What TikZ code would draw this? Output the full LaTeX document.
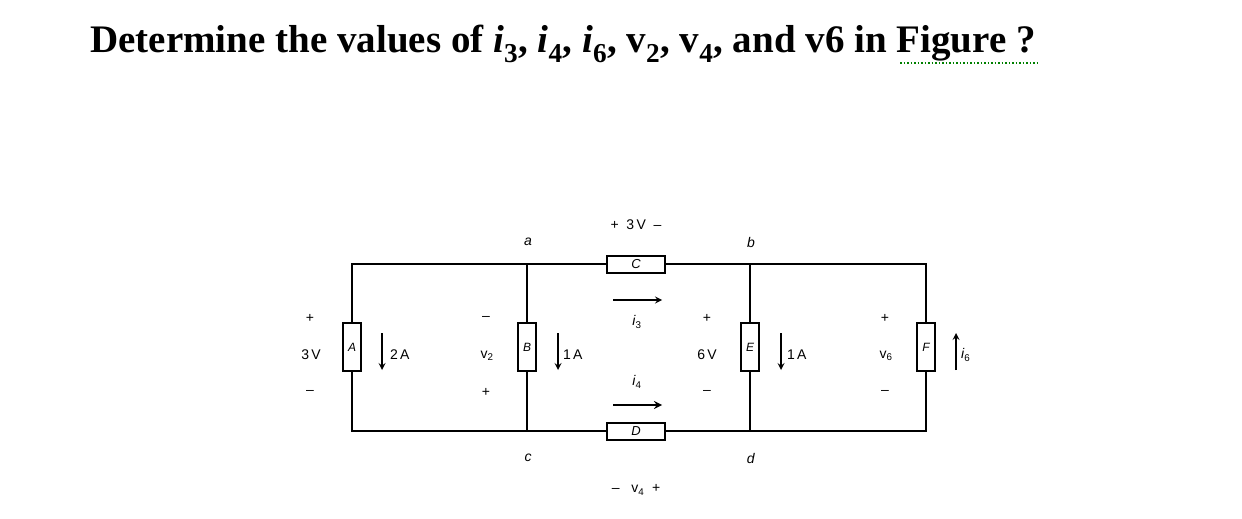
\documentclass[tikz,border=0pt]{standalone}
\usepackage{fontspec}
\setmainfont{Liberation Serif}
\setsansfont{Liberation Sans}
\begin{document}
\begin{tikzpicture}[x=1pt,y=-1pt,line width=2pt,
 el/.style={draw,line width=2pt,fill=white,minimum width=18pt,minimum height=48pt,inner sep=0pt,font=\sffamily\itshape\fontsize{12}{12}\selectfont},
 elh/.style={draw,line width=2pt,fill=white,minimum width=58pt,minimum height=17pt,inner sep=0pt,font=\sffamily\itshape\fontsize{13}{13}\selectfont},
 lb/.style={font=\sffamily\fontsize{14}{14}\selectfont,inner sep=1pt},
 arr/.style={->,line width=2pt,>=stealth}]
\useasboundingbox (0,0) rectangle (1242,519);
\node[anchor=west,font=\bfseries\fontsize{39}{39}\selectfont] (title) at (86,44) {Determine the values of \textit{i}\textsubscript{3}, \textit{i}\textsubscript{4}, \textit{i}\textsubscript{6}, v\textsubscript{2}, v\textsubscript{4}, and v6 in Figure ?};
\coordinate (u1) at (900,63); \coordinate (u2) at (1040,63);
\draw[line width=1.5pt,dotted,green!50!black] (u1)--(u2);
\coordinate (tl) at (352,264); \coordinate (ta) at (527,264); \coordinate (tb) at (750,264); \coordinate (tr) at (926,264);
\coordinate (bl) at (352,431); \coordinate (bc) at (527,431); \coordinate (bd) at (750,431); \coordinate (br) at (926,431);
\draw (tl)--(tr)--(br)--(bl)--cycle (ta)--(bc) (tb)--(bd);
\node[el] (A) at (352,347) {A};
\node[el] (B) at (527,347) {B};
\node[el] (E) at (750,347) {E};
\node[el] (F) at (926,347) {F};
\node[elh] (C) at (636,264) {C};
\node[elh] (D) at (636,431) {D};
\node[lb] at (310,318) {+}; \node[lb] at (311,355) {3\,V}; \node[lb] at (310,392) {--};
\coordinate (a1) at (382,333); \coordinate (a2) at (382,370); \draw[arr] (a1)--(a2); \node[lb,anchor=west] at (388,355) {2\,A};
\node[lb] at (486,318) {--}; \node[lb] at (487,356) {v\textsubscript{2}}; \node[lb] at (486,392) {+};
\coordinate (b1) at (558,333); \coordinate (b2) at (558,370); \draw[arr] (b1)--(b2); \node[lb,anchor=west] at (561,355) {1\,A};
\node[lb] at (707,318) {+}; \node[lb] at (707,355) {6\,V}; \node[lb] at (707,392) {--};
\coordinate (e1) at (781,333); \coordinate (e2) at (781,370); \draw[arr] (e1)--(e2); \node[lb,anchor=west] at (785,355) {1\,A};
\node[lb] at (885,318) {+}; \node[lb] at (886,356) {v\textsubscript{6}}; \node[lb] at (885,392) {--};
\coordinate (f1) at (956,370); \coordinate (f2) at (956,333); \draw[arr] (f1)--(f2); \node[lb,anchor=west] at (959,355) {\textit{i}\textsubscript{6}};
\coordinate (i3a) at (613,300); \coordinate (i3b) at (662,300); \draw[arr] (i3a)--(i3b); \node[lb] at (637,322) {\textit{i}\textsubscript{3}};
\coordinate (i4a) at (613,405); \coordinate (i4b) at (662,405); \draw[arr,line width=2.5pt] (i4a)--(i4b); \node[lb] at (637,382) {\textit{i}\textsubscript{4}};
\node[lb] at (636,225) {+\ \ 3\,V\ \ --};
\node[lb] at (636,490) {--\ \ \ v\textsubscript{4}\ \ +};
\node[lb] at (528,242) {\textit{a}}; \node[lb] at (751,242) {\textit{b}};
\node[lb] at (528,458) {\textit{c}}; \node[lb] at (751,458) {\textit{d}};
\end{tikzpicture}
\end{document}
